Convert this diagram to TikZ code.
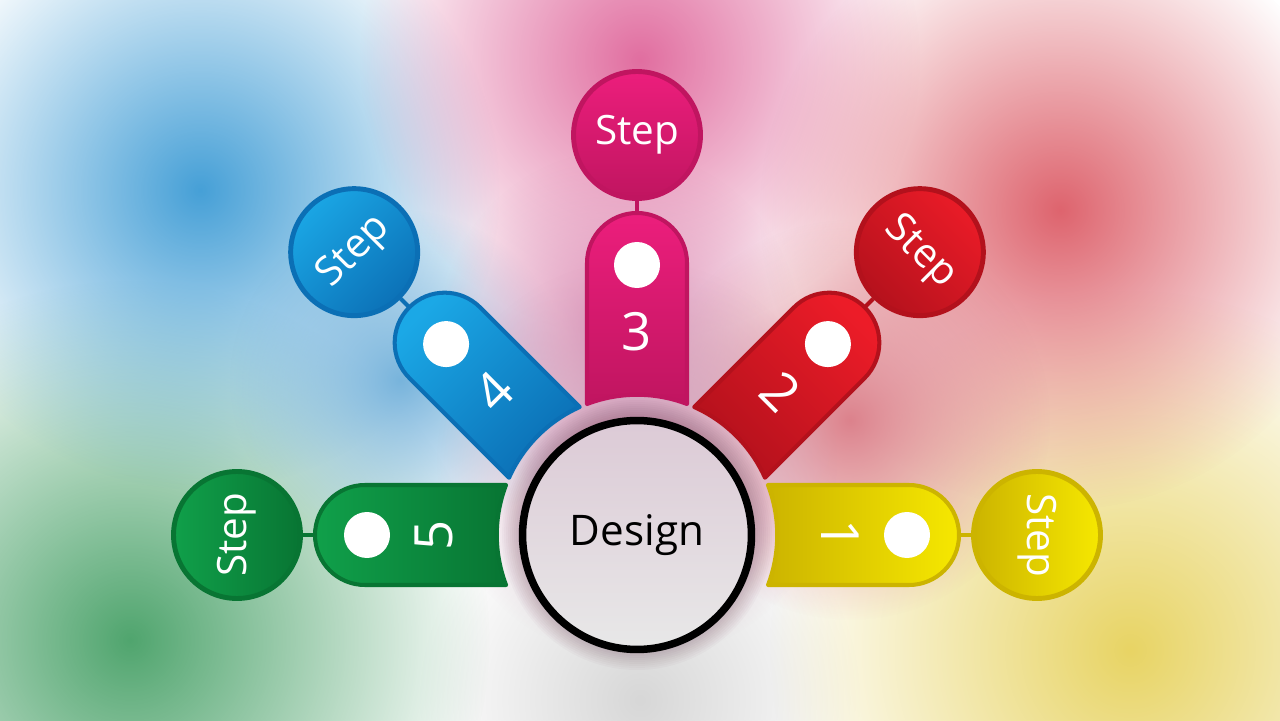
\documentclass[tikz,border=0pt]{standalone}
\usepackage{fontspec}
\setmainfont{Open Sans}
\usetikzlibrary{fadings}

\definecolor{ylite}{HTML}{F6E800}
\definecolor{ydark}{HTML}{CCB400}
\definecolor{rlite}{HTML}{EC1C28}
\definecolor{rdark}{HTML}{B3111C}
\definecolor{plite}{HTML}{EC1E7C}
\definecolor{pdark}{HTML}{C01560}
\definecolor{blite}{HTML}{1BA8E6}
\definecolor{bdark}{HTML}{0B6FB5}
\definecolor{glite}{HTML}{10A04A}
\definecolor{gdark}{HTML}{087533}
\definecolor{hubtop}{HTML}{DCCAD6}
\definecolor{hubbot}{HTML}{E8E8E8}

\tikzfading[name=softblob, inner color=transparent!0, outer color=transparent!100]

\begin{document}
\begin{tikzpicture}[x=0.02cm, y=0.02cm]
	\tikzstyle{blob}=[path fading=softblob]
	\tikzstyle{tab}=[line width=2.3pt, line join=round]
	\tikzstyle{stepc}=[circle, minimum size=2.54cm, inner sep=0pt, line width=2.8pt, text=white, font=\fontsize{23}{28}\selectfont]
	\tikzstyle{dot}=[circle, fill=white, minimum size=0.92cm, inner sep=0pt]
	\tikzstyle{numtxt}=[text=white, font=\fontsize{30}{36}\selectfont]
	\tikzstyle{link}=[line width=2.3pt]
	\tikzstyle{hub}=[circle, draw=black, line width=0.15cm, minimum size=4.58cm, inner sep=0pt, top color=hubtop, bottom color=hubbot, font=\fontsize{24}{29}\selectfont]
	\useasboundingbox (0,0) rectangle (1280,720);
	\fill[white] (0,0) rectangle (1280,720);
	% soft background
	\fill[blob, color={rgb,255:red,215;green,215;blue,215}] (640,20) circle (220);
	\fill[blob, color={rgb,255:red,80;green,165;blue,110}] (130,80) circle (360);
	\fill[blob, color={rgb,255:red,232;green,212;blue,100}] (1130,70) circle (360);
	\fill[blob, color={rgb,255:red,70;green,160;blue,215}] (200,530) circle (300);
	\fill[blob, color={rgb,255:red,120;green,180;blue,220}] (400,340) circle (170);
	\fill[blob, color={rgb,255:red,225;green,110;blue,160}] (640,660) circle (280);
	\fill[blob, color={rgb,255:red,220;green,140;blue,180}] (620,390) circle (180);
	\fill[blob, color={rgb,255:red,222;green,100;blue,110}] (1060,510) circle (300);
	\fill[blob, color={rgb,255:red,220;green,130;blue,140}] (850,300) circle (200);
	\fill[blob, color={rgb,255:red,205;green,160;blue,185}] (637,260) circle (200);
	\coordinate (C) at (637,185);
	% glow round the hub
	\foreach \r in {119,121,...,135}
		\fill[pdark!35!black, opacity=0.025] (C) circle (\r);
	\foreach \ang/\lite/\dark/\num in {0/ylite/ydark/1, 45/rlite/rdark/2, 90/plite/pdark/3, 135/blite/bdark/4, 180/glite/gdark/5} {
		\pgfmathsetmacro\rot{\ang-90}
		\begin{scope}[shift={(C)}, rotate=\rot]
			\draw[tab, draw=\dark, top color=\lite, bottom color=\dark, shading angle=\rot]
				(-50,131) -- (-50,272) arc[start angle=180, end angle=0, radius=50]
				-- (50,131) arc[start angle=69.1, end angle=110.9, radius=140] -- cycle;
		\end{scope}
		\coordinate (tip\num) at ([shift={(\ang:322)}]C);
		\node[stepc, draw=\dark, top color=\lite, bottom color=\dark, shading angle=\rot, rotate=\rot]
			(step\num) at ([shift={(\ang:400)}]C) {Step};
		\draw[link, draw=\dark] (tip\num) -- (step\num);
		\node[dot] (dot\num) at ([shift={(\ang:270)}]C) {};
		\node[numtxt, rotate=\rot] (num\num) at ([shift={(\ang:203)}]C) {\num};
	}
	\node[hub] (hub) at (C) {Design};
\end{tikzpicture}
\end{document}
